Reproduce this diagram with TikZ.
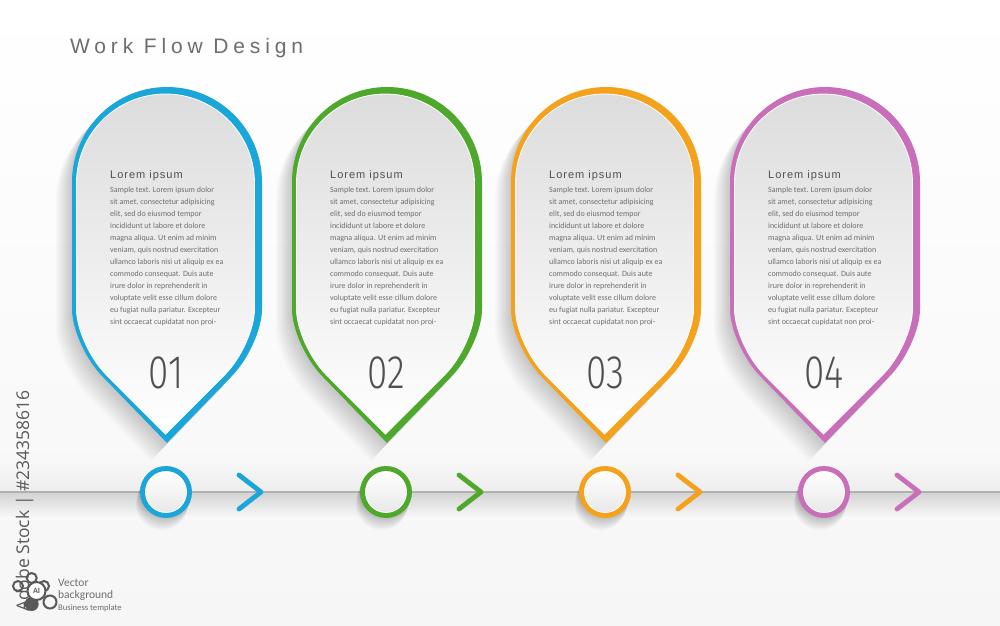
\documentclass[tikz,border=0pt]{standalone}
\usepackage{fontspec}
\setmainfont{Liberation Sans}
\newfontfamily\bodyfont{Carlito}
\newfontfamily\titlefont[LetterSpace=23]{Liberation Sans}
\newfontfamily\headfont[LetterSpace=9]{Liberation Sans}
\newfontfamily\numfont{Fira Sans Light}
\newfontfamily\wmfont{Open Sans}
\definecolor{cblue}{HTML}{1BA6D9}
\definecolor{cgreen}{HTML}{4DA82B}
\definecolor{corange}{HTML}{F4A11C}
\definecolor{cpurple}{HTML}{C96FB9}
\definecolor{bgc}{HTML}{F6F6F6}
\definecolor{txtgray}{HTML}{6E6E6E}
\definecolor{headgray}{HTML}{505050}
\tikzset{
  pinshape/.style n args={5}{insert path={
    ({#1-#3},#2) arc[start angle=180,end angle=0,radius=#3pt]
    -- ({#1+#3},{#4-36})
    .. controls ({#1+#3},{#4-16}) and ({#1+#3-13.5},{#4+13.5*(#5-#4)/#3}) ..
       ({#1+#3-30},{#4+30*(#5-#4)/#3})
    -- (#1,#5)
    -- ({#1-#3+30},{#4+30*(#5-#4)/#3})
    .. controls ({#1-#3+13.5},{#4+13.5*(#5-#4)/#3}) and ({#1-#3},{#4-16}) ..
       ({#1-#3},{#4-36}) -- cycle}},
  bodytext/.style={anchor=north west, align=left, inner sep=0pt,
    font=\bodyfont\fontsize{8}{12}\selectfont, text=txtgray},
  headtext/.style={anchor=base west, inner sep=0pt,
    font=\headfont\fontsize{11}{12}\selectfont, text=headgray},
  numtext/.style={inner sep=0pt, font=\numfont\fontsize{46}{46}\selectfont, text=headgray},
  chevron/.style={line width=4.8pt, line cap=round, line join=round},
}
\begin{document}
\begin{tikzpicture}[x=1pt,y=-1pt]
\useasboundingbox (0,0) rectangle (1000,625);
\shade[top color=white, bottom color=bgc] (0,0) rectangle (1000,625);
% timeline band
\shade[top color=bgc, bottom color=gray!14] (0,465) rectangle (1000,492);
\shade[top color=gray!35, bottom color=bgc] (0,492) rectangle (1000,516);
\draw[gray!62, line width=1.3pt] (0,492) -- (1000,492);
% title
\node[anchor=base west, inner sep=0pt, font=\titlefont\fontsize{21}{21}\selectfont, text=txtgray] (title) at (70,53) {Work Flow Design};
\foreach \cx/\col/\num [count=\i] in {167/cblue/01, 387/cgreen/02, 606/corange/03, 825/cpurple/04} {
  % pin shadow
  \foreach \s in {1,...,10} {
    \fill[black, opacity=0.02, shift={(-1.6*\s,1.8*\s)}, pinshape={\cx}{182}{95}{345}{443}];
  }
  \fill[\col, pinshape={\cx}{182}{95}{345}{443}];
  \shade[top color=gray!27, bottom color=white, draw=white, line width=0.8pt,
         pinshape={\cx-1.5}{183}{89}{345}{434}];
  \node[headtext] (head\i) at (\cx-57,178) {Lorem ipsum};
  \node[bodytext] (body\i) at (\cx-57,187) {Sample text. Lorem ipsum dolor\\
sit amet, consectetur adipisicing\\
elit, sed do eiusmod tempor\\
incididunt ut labore et dolore\\
magna aliqua. Ut enim ad minim\\
veniam, quis nostrud exercitation\\
ullamco laboris nisi ut aliquip ex ea\\
commodo consequat. Duis aute\\
irure dolor in reprehenderit in\\
voluptate velit esse cillum dolore\\
eu fugiat nulla pariatur. Excepteur\\
sint occaecat cupidatat non proi-};
  \node[numtext] (num\i) at (\cx-1,373) {\scalebox{0.8}[1.02]{\num}};
  % circle
  \foreach \s in {1,...,7} {
    \fill[black, opacity=0.03] (\cx-1-0.6*\s,492+1.7*\s) circle[radius=26pt];
  }
  \fill[\col] (\cx-1,492) circle[radius=26pt];
  \shade[top color=white, bottom color=gray!18, draw=white, line width=0.8pt] (\cx-1,492) circle[radius=20.5pt];
  % chevron
  \draw[chevron, \col] (\cx+72,475) -- (\cx+94,492) -- (\cx+72,509);
}
% watermark text and logo
\node[rotate=90, anchor=base west, inner sep=0pt, font=\wmfont\fontsize{17.5}{17.5}\selectfont, text=gray!70!black] (wm) at (29,612) {Adobe Stock | \#234358616};
\begin{scope}[gray!70!black, line width=2pt]
  \draw (31.7,578) circle[radius=5pt];
  \draw (18,586) circle[radius=5pt];
  \draw (44,586) circle[radius=5pt];
  \fill (31.7,604) circle[radius=7pt];
  \draw (50,602) circle[radius=6.5pt];
  \fill[white] (36.5,591) circle[radius=9pt];
  \draw (36.5,591) circle[radius=9pt];
\end{scope}
\node[inner sep=0pt, font=\bodyfont\bfseries\fontsize{8}{8}\selectfont, text=gray!70!black] (ai) at (36.5,591) {AI};
\node[anchor=base west, inner sep=0pt, font=\bodyfont\fontsize{11.5}{11.5}\selectfont, text=txtgray] (v1) at (58,586) {Vector};
\node[anchor=base west, inner sep=0pt, font=\bodyfont\fontsize{11.5}{11.5}\selectfont, text=txtgray] (v2) at (58,598) {background};
\node[anchor=base west, inner sep=0pt, font=\bodyfont\fontsize{8.6}{8.6}\selectfont, text=txtgray] (v3) at (58,610) {Business template};
\end{tikzpicture}
\end{document}
